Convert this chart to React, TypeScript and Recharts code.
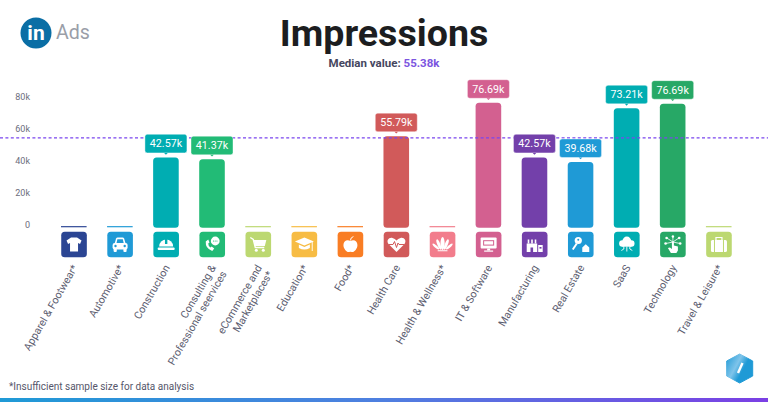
import React from 'react';
import { BarChart, Bar, XAxis, YAxis, ReferenceLine, LabelList } from 'recharts';

const categories = [
  ['Apparel & Footwear*'],
  ['Automotive*'],
  ['Construction'],
  ['Consulting &', 'Professional seervices'],
  ['eCommerce and', 'Marketplaces*'],
  ['Education*'],
  ['Food*'],
  ['Health Care'],
  ['Health & Wellness*'],
  ['IT & Software'],
  ['Manufacturing'],
  ['Real Estate'],
  ['SaaS'],
  ['Technology'],
  ['Travel & Leisure*'],
];
// bar heights, the Technology bar is a bit shorter than its label says
const values = [0, 0, 42.57, 41.37, 0, 0, 0, 55.79, 0, 76.69, 42.57, 39.68, 73.21, 76.1, 0];
const valueLabels = ['', '', '42.57k', '41.37k', '', '', '', '55.79k', '', '76.69k', '42.57k', '39.68k', '73.21k', '76.69k', ''];
const colors = ['#2b4593', '#1f9ad6', '#00adb2', '#22bb76', '#bcd871', '#f7bc44', '#f97d24', '#d15a5a', '#f27d8c', '#d36090', '#7340aa', '#1f9ad6', '#00adb2', '#27a866', '#bcd871'];
const icons = ['shirt', 'car', 'helmet', 'phone', 'cart', 'cap', 'apple', 'heart', 'lotus', 'monitor', 'factory', 'key', 'cloud', 'touch', 'case'];
const yTicks = [0, 20, 40, 60, 80];
const MEDIAN = 55.38;

const data = categories.map((lines, i) => ({
  name: lines.join(' '),
  lines,
  value: values[i],
  label: valueLabels[i],
  color: colors[i],
  icon: icons[i],
}));

const FONT = 'Roboto, sans-serif';

const Glyph = ({ name, bg }: { name: string; bg: string }) => {
  switch (name) {
    case 'shirt':
      return <path d="M-3,-7 L3,-7 L7.5,-4 L6,-0.5 L4,-1.5 L4,7 L-4,7 L-4,-1.5 L-6,-0.5 L-7.5,-4 Z" fill="#fff" />;
    case 'car':
      return (
        <g>
          <path d="M-5.5,-1 L-4,-6 Q-3.6,-7 -2.5,-7 L2.5,-7 Q3.6,-7 4,-6 L5.5,-1 Z" fill="#fff" />
          <path d="M-3.6,-1.6 L-2.7,-5.2 L2.7,-5.2 L3.6,-1.6 Z" fill={bg} />
          <rect x={-7.5} y={-1.5} width={15} height={6.5} rx={2} fill="#fff" />
          <rect x={-6.5} y={4} width={3.2} height={3.5} rx={1} fill="#fff" />
          <rect x={3.3} y={4} width={3.2} height={3.5} rx={1} fill="#fff" />
          <circle cx={-4.6} cy={1.5} r={1.2} fill={bg} />
          <circle cx={4.6} cy={1.5} r={1.2} fill={bg} />
        </g>
      );
    case 'helmet':
      return (
        <g fill="#fff">
          <path d="M-7,2 A7,7 0 0 1 7,2 Z" />
          <rect x={-8.5} y={3} width={17} height={2.6} rx={1} />
          <rect x={-1.2} y={-5.5} width={2.4} height={5} fill={bg} />
        </g>
      );
    case 'phone':
      return (
        <g>
          <path d="M-6.5,-3 Q-7,4 0,6.5 L2,4 L-0.5,2 L-1.8,3 Q-4,1.5 -4,-1 L-2.7,-2 L-4,-5 Z" fill="#fff" />
          <circle cx={3} cy={-3.5} r={4.4} fill="#fff" />
          <circle cx={1.3} cy={-3.5} r={0.6} fill={bg} />
          <circle cx={3} cy={-3.5} r={0.6} fill={bg} />
          <circle cx={4.7} cy={-3.5} r={0.6} fill={bg} />
        </g>
      );
    case 'cart':
      return (
        <g>
          <path d="M-8,-7 L-5,-5 L-3,3 L6,3" fill="none" stroke="#fff" strokeWidth={1.4} />
          <path d="M-4.6,-4.5 L8,-4.5 L6.5,1.5 L-3.2,1.5 Z" fill="#fff" />
          <circle cx={-2} cy={5.8} r={1.5} fill="#fff" />
          <circle cx={5} cy={5.8} r={1.5} fill="#fff" />
        </g>
      );
    case 'cap':
      return (
        <g fill="#fff">
          <path d="M0,-7 L9.5,-3 L0,1 L-9.5,-3 Z" />
          <path d="M-5.5,0 L-5.5,3.5 Q0,6.5 5.5,3.5 L5.5,0 L0,2.5 Z" />
          <rect x={7.4} y={-2.5} width={0.9} height={9} />
        </g>
      );
    case 'apple':
      return (
        <g>
          <path d="M0,-3.5 C-3,-5.5 -7,-4 -7,0.5 C-7,4.5 -3.5,8 -1.5,7.5 Q0,7 1.5,7.5 C3.5,8 7,4.5 7,0.5 C7,-4 3,-5.5 0,-3.5 Z" fill="#fff" />
          <path d="M0,-4 Q0,-7 3,-8" fill="none" stroke="#fff" strokeWidth={1} />
        </g>
      );
    case 'heart':
      return (
        <g>
          <path d="M0,7.5 L-8,-0.5 C-10.5,-4 -7.5,-7.5 -4,-6.5 Q-1.5,-6 0,-4 Q1.5,-6 4,-6.5 C7.5,-7.5 10.5,-4 8,-0.5 Z" fill="#fff" />
          <path d="M-8,0 L-3.5,0 L-2,-3 L0,3 L1.5,-1.5 L2.5,0 L8,0" fill="none" stroke={bg} strokeWidth={1} />
        </g>
      );
    case 'lotus':
      return (
        <g fill="#fff">
          <ellipse cx={0} cy={-1} rx={2.1} ry={6.5} />
          <ellipse cx={-3.7} cy={0} rx={1.5} ry={5.5} transform="rotate(-22 -3.7 0)" />
          <ellipse cx={3.7} cy={0} rx={1.5} ry={5.5} transform="rotate(22 3.7 0)" />
          <ellipse cx={-6.8} cy={2} rx={1.2} ry={4.2} transform="rotate(-50 -6.8 2)" />
          <ellipse cx={6.8} cy={2} rx={1.2} ry={4.2} transform="rotate(50 6.8 2)" />
          <rect x={-5} y={5.8} width={10} height={1} rx={0.5} />
        </g>
      );
    case 'monitor':
      return (
        <g>
          <rect x={-8} y={-7} width={16} height={11} rx={1} fill="#fff" />
          <rect x={-5} y={-3.8} width={10} height={4.4} fill="none" stroke={bg} strokeWidth={1} />
          <rect x={-1.5} y={4} width={3} height={2} fill="#fff" />
          <rect x={-4.5} y={6} width={9} height={1.2} fill="#fff" />
        </g>
      );
    case 'factory':
      return (
        <g fill="#fff">
          <rect x={-8} y={-1} width={10.5} height={8.5} />
          <rect x={3.5} y={0.5} width={4.5} height={7} />
          <rect x={-7} y={-5} width={1.6} height={4} />
          <rect x={-3.5} y={-5} width={1.6} height={4} />
          <rect x={0} y={-5} width={1.6} height={4} />
          <rect x={-4.2} y={3} width={2.6} height={4.5} fill={bg} />
          <rect x={4.8} y={2.5} width={2} height={1.6} fill={bg} />
        </g>
      );
    case 'key':
      return (
        <g>
          <circle cx={-2.5} cy={-4} r={3.6} fill="#fff" />
          <circle cx={-2.5} cy={-4.8} r={1} fill={bg} />
          <path d="M-4,-1 L-8,5" stroke="#fff" strokeWidth={2} />
          <path d="M1.5,3 L5,-0.2 L8.5,3 L8.5,7.5 L1.5,7.5 Z" fill="#fff" />
        </g>
      );
    case 'cloud':
      return (
        <g>
          <g fill="#fff">
            <circle cx={-4.5} cy={-1} r={3.2} />
            <circle cx={0} cy={-3.5} r={4.4} />
            <circle cx={4.5} cy={-1} r={3.2} />
            <rect x={-4.5} y={-2} width={9} height={4.2} />
          </g>
          <path d="M0,2 L0,7 M-3,2 L-3,4.5 L-5.5,6 M3,2 L3,4.5 L5.5,6" fill="none" stroke="#fff" strokeWidth={0.9} />
        </g>
      );
    case 'touch':
      return (
        <g>
          <path d="M0,-2.5 L-6,-6.5 M0,-2.5 L0,-8 M0,-2.5 L6,-6.5 M0,-2.5 L-7,-1 M0,-2.5 L7,-1" stroke="#fff" strokeWidth={0.8} />
          <circle cx={-6.3} cy={-6.5} r={1.3} fill="#fff" />
          <circle cx={0} cy={-8} r={1.2} fill="#fff" />
          <circle cx={6.3} cy={-6.5} r={1.3} fill="#fff" />
          <circle cx={-7.3} cy={-1} r={1.3} fill="#fff" />
          <circle cx={7.3} cy={-1} r={1.3} fill="#fff" />
          <path d="M-1,-2.5 Q0,-3.5 1,-2.5 L1,1 L5,2 L5,6 L3.5,8.5 L-2,8.5 L-5,3.5 L-3,3 L-1,4.5 Z" fill="#fff" />
        </g>
      );
    case 'case':
      return (
        <g>
          <rect x={-8} y={-4.5} width={16} height={12} rx={1.5} fill="#fff" />
          <path d="M-3,-4.5 L-3,-7 L3,-7 L3,-4.5" fill="none" stroke="#fff" strokeWidth={1.2} />
          <rect x={-5} y={-4.5} width={1} height={12} fill={bg} />
          <rect x={4} y={-4.5} width={1} height={12} fill={bg} />
        </g>
      );
    default:
      return null;
  }
};

// tile with icon plus the slanted category name
const CategoryTick = (props: any) => {
  const { x, y, index } = props;
  const d = data[index];
  if (!d) return null;
  return (
    <g>
      <g transform={`translate(${x},${y + 18.5})`}>
        <rect x={-12.8} y={-12.8} width={25.6} height={25.6} rx={3.5} fill={d.color} />
        <Glyph name={d.icon} bg={d.color} />
      </g>
      <g transform={`rotate(-60 ${x + 4} ${y + 41.5})`}>
        {d.lines.map((line: string, i: number) => (
          <text key={line} x={x + 4} y={y + 41.5 + i * 12.4} textAnchor="end" fontSize={10.6} fontFamily={FONT} fill="#5c5d70">
            {line}
          </text>
        ))}
      </g>
    </g>
  );
};

const ValueTick = (props: any) => {
  const { x, y, payload } = props;
  return (
    <text x={x} y={y + 2.4} textAnchor="end" fontSize={9} fontFamily={FONT} fill="#6c6d7d">
      {payload.value === 0 ? '0' : `${payload.value}k`}
    </text>
  );
};

const RoundBar = (props: any) => {
  const { x, y, width, height, payload } = props;
  if (!payload.value) {
    return <rect x={x} y={y} width={width} height={1.3} fill={payload.color} opacity={0.9} />;
  }
  return <rect x={x} y={y - 0.5} width={width} height={height + 2.2} rx={3.5} fill={payload.color} />;
};

const Callout = (props: any) => {
  const { x, y, width, value, index } = props;
  if (!value) return null;
  const cx = x + width / 2;
  const w = 42;
  const h = 18.6;
  const bottom = y - 5;
  return (
    <g>
      <rect x={cx - w / 2} y={bottom - h} width={w} height={h} rx={2.5} fill={data[index].color} stroke="#fff" strokeOpacity={0.7} strokeWidth={0.6} />
      <path d={`M${cx - 1.8},${bottom} L${cx},${bottom + 1.8} L${cx + 1.8},${bottom} Z`} fill={data[index].color} />
      <text x={cx} y={bottom - h / 2 + 3.7} textAnchor="middle" fontSize={10.7} fontWeight={400} fontFamily={FONT} fill="#fff">
        {value}
      </text>
    </g>
  );
};

const drawMedian = (props: any) => (
  <line x1={0} x2={768} y1={props.y1 + 0.5} y2={props.y1 + 0.5} stroke="#7a45ee" strokeWidth={1.2} strokeDasharray="3 2.4" />
);

export default function App() {
  return (
    <div style={{ position: 'absolute', left: 0, top: 0, width: 768, height: 402, overflow: 'hidden', background: '#fff', fontFamily: FONT }}>
      <BarChart
        width={768}
        height={402}
        data={data}
        margin={{ top: 98, right: 26, bottom: 0, left: 0 }}
        barSize={25.6}
      >
        <XAxis dataKey="name" interval={0} axisLine={false} tickLine={false} tickSize={0} tickMargin={0} height={176} tick={<CategoryTick />} />
        <YAxis domain={[0, 80]} ticks={yTicks} width={51} axisLine={false} tickLine={false} tickSize={0} tickMargin={21} tick={<ValueTick />} />
        <ReferenceLine y={MEDIAN} stroke="#7a45ee" shape={drawMedian} />
        <Bar dataKey="value" shape={<RoundBar />} isAnimationActive={false}>
          <LabelList dataKey="label" content={<Callout />} />
        </Bar>
      </BarChart>

      {/* header */}
      <div style={{ position: 'absolute', left: 0, right: 0, top: 10, textAlign: 'center', fontSize: 37.6, lineHeight: '46px', fontWeight: 700, color: '#1c1d20' }}>Impressions</div>
      <div style={{ position: 'absolute', left: 0, right: 0, top: 56, textAlign: 'center', fontSize: 11.5, lineHeight: '14px', fontWeight: 700, color: '#45465e' }}>
        Median value: <span style={{ color: '#7b55e0' }}>55.38k</span>
      </div>

      {/* logo */}
      <svg width={60} height={60} style={{ position: 'absolute', left: 10, top: 3 }}>
        <circle cx={26} cy={30} r={15.5} fill="#0a6ea5" />
        <text x={26} y={37} textAnchor="middle" fontSize={21} fontWeight={700} fontFamily={FONT} fill="#fff">in</text>
      </svg>
      <div style={{ position: 'absolute', left: 56, top: 21, fontSize: 19.6, lineHeight: '24px', color: '#9a9ea8' }}>Ads</div>

      {/* footnote */}
      <div style={{ position: 'absolute', left: 9, top: 381, fontSize: 10, lineHeight: '12px', color: '#55566a' }}>*Insufficient sample size for data analysis</div>

      {/* badge */}
      <svg width={30} height={32} style={{ position: 'absolute', left: 725, top: 352 }}>
        <defs>
          <linearGradient id="badgeFill" x1="0" y1="0" x2="1" y2="0.6">
            <stop offset="0%" stopColor="#1f9ad6" />
            <stop offset="45%" stopColor="#7fc4ea" />
            <stop offset="70%" stopColor="#1f9ad6" />
          </linearGradient>
        </defs>
        <path d="M14.7,2 L27.7,9 L27.7,24 L14.7,31 L1.7,24 L1.7,9 Z" fill="url(#badgeFill)" stroke="url(#badgeFill)" strokeWidth={1} strokeLinejoin="round" />
        <path d="M13,21 L17.5,11" stroke="#fff" strokeWidth={2.4} />
      </svg>

      {/* bottom strip */}
      <div style={{ position: 'absolute', left: 0, right: 0, top: 398, height: 4, background: 'linear-gradient(90deg, #1f9ad6 0%, #4f7fe0 50%, #7b3fe4 100%)' }} />
    </div>
  );
}
